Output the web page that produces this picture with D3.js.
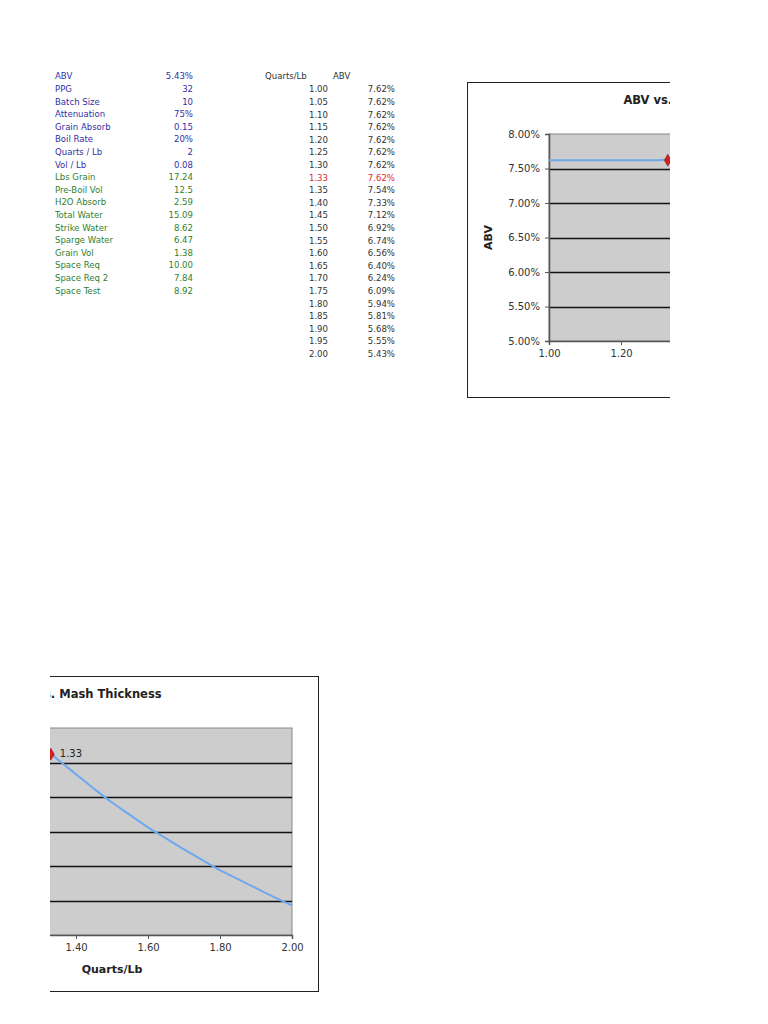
<!DOCTYPE html>
<html><head><meta charset="utf-8">
<script src="https://cdn.jsdelivr.net/npm/d3@7"></script>
<style>body{margin:0;background:#fff}svg{display:block}</style>
</head><body>
<script>
// ---- data ----
const paramLabels = ["ABV","PPG","Batch Size","Attenuation","Grain Absorb","Boil Rate","Quarts / Lb","Vol / Lb","Lbs Grain","Pre-Boil Vol","H2O Absorb","Total Water","Strike Water","Sparge Water","Grain Vol","Space Req","Space Req 2","Space Test"];
const paramValues = ["5.43%","32","10","75%","0.15","20%","2","0.08","17.24","12.5","2.59","15.09","8.62","6.47","1.38","10.00","7.84","8.92"];
const paramGroup = ["in","in","in","in","in","in","in","in","calc","calc","calc","calc","calc","calc","calc","calc","calc","calc"];
const quartsPerLb = [1.00,1.05,1.10,1.15,1.20,1.25,1.30,1.33,1.35,1.40,1.45,1.50,1.55,1.60,1.65,1.70,1.75,1.80,1.85,1.90,1.95,2.00];
const abvValues = [7.62,7.62,7.62,7.62,7.62,7.62,7.62,7.62,7.54,7.33,7.12,6.92,6.74,6.56,6.40,6.24,6.09,5.94,5.81,5.68,5.55,5.43];
const currentQ = 1.33, currentAbv = 7.62;
const yTicks = [5.00,5.50,6.00,6.50,7.00,7.50,8.00];
const xTicks = [1.00,1.20,1.40,1.60,1.80,2.00];
const chartTitle = "ABV vs. Mash Thickness";

const W=768,H=1024;
const svg=d3.select("body").append("svg").attr("width",W).attr("height",H);
const tf='"DejaVu Sans Condensed","DejaVu Sans",sans-serif';
const cf='"DejaVu Sans",Verdana,sans-serif';

// ---- left table ----
const rowH=12.6;
const lt=svg.append("g").attr("font-family",tf).attr("font-size",9.5);
paramLabels.forEach((l,i)=>{
  const c=paramGroup[i]==="in"?"#3030a8":"#2f7f2f";
  lt.append("text").attr("x",55).attr("y",76+i*rowH).attr("dy","0.35em").attr("fill",c).text(l);
  lt.append("text").attr("x",193).attr("y",76+i*rowH).attr("dy","0.35em").attr("text-anchor","end").attr("fill",c).text(paramValues[i]);
});
// ---- middle table ----
const mt=svg.append("g").attr("font-family",tf).attr("font-size",9.5).attr("fill","#333");
mt.append("text").attr("x",265).attr("y",76).attr("dy","0.35em").text("Quarts/Lb");
mt.append("text").attr("x",333).attr("y",76).attr("dy","0.35em").text("ABV");
quartsPerLb.forEach((q,i)=>{
  const c=q===currentQ?"#e02828":"#333";
  const y=89+i*rowH;
  mt.append("text").attr("x",328).attr("y",y).attr("dy","0.35em").attr("text-anchor","end").attr("fill",c).text(q.toFixed(2));
  mt.append("text").attr("x",395).attr("y",y).attr("dy","0.35em").attr("text-anchor","end").attr("fill",c).text(abvValues[i].toFixed(2)+"%");
});

// ---- chart (drawn twice, split across two "pages") ----
const defs=svg.append("defs");
const clipA={x0:0,x1:670,y0:0,y1:420};
const clipB={x0:50,x1:768,y0:640,y1:1024};
defs.append("clipPath").attr("id","clipA").append("rect").attr("x",clipA.x0).attr("y",clipA.y0).attr("width",clipA.x1-clipA.x0).attr("height",clipA.y1-clipA.y0);
defs.append("clipPath").attr("id","clipB").append("rect").attr("x",clipB.x0).attr("y",clipB.y0).attr("width",clipB.x1-clipB.x0).attr("height",clipB.y1-clipB.y0);

function drawChart(g){
  const fx0=467,fy0=82,fx1=935,fy1=397;
  const x=d3.scaleLinear().domain([1,2]).range([549,909]);
  const y=d3.scaleLinear().domain([5,8]).range([341,134]);
  g.append("rect").attr("x",fx0+0.5).attr("y",fy0+0.5).attr("width",fx1-fx0).attr("height",fy1-fy0)
    .attr("fill","#fff").attr("stroke","#222").attr("stroke-width",1);
  g.append("rect").attr("x",x(1)).attr("y",y(8)).attr("width",x(2)-x(1)).attr("height",y(5)-y(8))
    .attr("fill","#cdcdcd").attr("stroke","#888").attr("stroke-width",1);
  g.append("g").selectAll("line").data(yTicks.filter(t=>t>5&&t<8)).join("line")
    .attr("x1",x(1)).attr("x2",x(2)).attr("y1",d=>Math.round(y(d))+0.5).attr("y2",d=>Math.round(y(d))+0.5)
    .attr("stroke","#111").attr("stroke-width",1.3);
  const ya=g.append("g").attr("transform",`translate(${x(1)},0)`)
    .call(d3.axisLeft(y).tickValues(yTicks).tickFormat(d=>d.toFixed(2)+"%").tickSize(4).tickPadding(5));
  const xa=g.append("g").attr("transform",`translate(0,${y(5)})`)
    .call(d3.axisBottom(x).tickValues(xTicks).tickFormat(d=>d.toFixed(2)).tickSize(4).tickPadding(5));
  [ya,xa].forEach(a=>{
    a.select(".domain").attr("stroke","#555").attr("stroke-width",1.5);
    a.selectAll(".tick line").attr("stroke","#555");
    a.selectAll("text").attr("font-family",cf).attr("font-size",10).attr("fill","#333");
  });
  const line=d3.line().x((d,i)=>x(quartsPerLb[i])).y(d=>y(d)).curve(d3.curveCatmullRom);
  g.append("path").datum(abvValues).attr("d",line).attr("fill","none").attr("stroke","#6fa8ee").attr("stroke-width",2);
  const mx=x(currentQ),my=y(currentAbv);
  g.append("path").attr("d",d3.symbol(d3.symbolDiamond,40)())
    .attr("transform",`translate(${mx},${my})`).attr("fill","#d81e1e").attr("stroke","#7a1010").attr("stroke-width",0.6);
  g.append("text").attr("x",mx+9).attr("y",my-1).attr("dy","0.35em").attr("font-family",cf).attr("font-size",10).attr("fill","#222").text(currentQ.toFixed(2));
  g.append("text").attr("x",(fx0+fx1)/2).attr("y",100).attr("dy","0.35em").attr("text-anchor","middle")
    .attr("font-family",cf).attr("font-size",11.5).attr("font-weight","bold").attr("fill","#222").text(chartTitle);
  g.append("text").attr("x",(x(1)+x(2))/2).attr("y",375).attr("dy","0.35em").attr("text-anchor","middle")
    .attr("font-family",cf).attr("font-size",11).attr("font-weight","bold").attr("fill","#222").text("Quarts/Lb");
  g.append("text").attr("transform",`translate(488,${(y(5)+y(8))/2}) rotate(-90)`).attr("dy","0.35em").attr("text-anchor","middle")
    .attr("font-family",cf).attr("font-size",11).attr("font-weight","bold").attr("fill","#222").text("ABV");
}
function pruneHidden(g,c){
  // drop texts that lie wholly outside this page's visible window
  g.selectAll("text").each(function(){
    const b=this.getBoundingClientRect();
    if(b.right<=c.x0||b.left>=c.x1||b.bottom<=c.y0||b.top>=c.y1) this.remove();
  });
}
const pageA=svg.append("g").attr("clip-path","url(#clipA)");
drawChart(pageA.append("g"));
pruneHidden(pageA,clipA);
const pageB=svg.append("g").attr("clip-path","url(#clipB)");
drawChart(pageB.append("g").attr("transform","translate(-617,594)"));
pruneHidden(pageB,clipB);
</script>
</body></html>
